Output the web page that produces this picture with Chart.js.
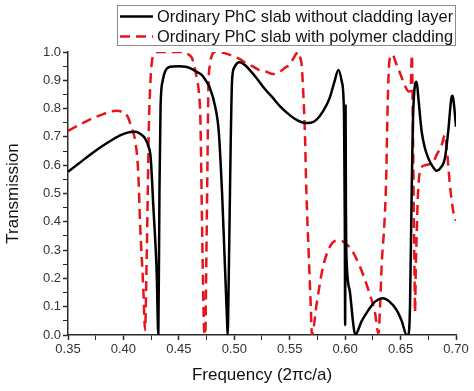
<!DOCTYPE html>
<html>
<head>
<meta charset="utf-8">
<title>PhC slab transmission</title>
<script src="https://cdn.jsdelivr.net/npm/chart.js@4.4.1/dist/chart.umd.min.js"></script>
<style>
  html, body { margin: 0; padding: 0; background: #fff; }
  #chart { display: block; }
</style>
</head>
<body>
<canvas id="chart" width="474" height="391"></canvas>
<script>
const seriesLabels = [
  'Ordinary PhC slab without cladding layer',
  'Ordinary PhC slab with polymer cladding'
];

// without cladding (black, solid)
const bareFreq = [
  0.350, 0.360, 0.370, 0.380, 0.390, 0.398, 0.4045, 0.4105, 0.4155, 0.4195,
  0.4225, 0.4245, 0.427, 0.430, 0.4315, 0.4325, 0.4335, 0.4355, 0.4375, 0.442,
  0.450, 0.456, 0.460, 0.466, 0.4706, 0.475, 0.478, 0.4826, 0.486, 0.489,
  0.491, 0.4935, 0.494, 0.495, 0.4966, 0.498, 0.500, 0.503, 0.505, 0.510,
  0.514, 0.520, 0.527, 0.535, 0.542, 0.550, 0.557, 0.5638, 0.569, 0.574,
  0.580, 0.586, 0.590, 0.594, 0.597, 0.599, 0.5997, 0.600, 0.6004, 0.6007,
  0.601, 0.604, 0.607, 0.609, 0.615, 0.621, 0.627, 0.634, 0.640, 0.6465,
  0.651, 0.6555, 0.657, 0.6585, 0.660, 0.6615, 0.6645, 0.666, 0.669, 0.672,
  0.675, 0.679, 0.6826, 0.686, 0.690, 0.693, 0.696, 0.697, 0.698, 0.700
];
const bareTrans = [
  0.577, 0.607, 0.637, 0.665, 0.690, 0.707, 0.716, 0.718, 0.710, 0.695,
  0.667, 0.630, 0.453, 0.220, 0.000, 0.510, 0.807, 0.900, 0.930, 0.948,
  0.950, 0.948, 0.943, 0.930, 0.919, 0.895, 0.873, 0.810, 0.718, 0.500,
  0.300, 0.050, 0.000, 0.200, 0.636, 0.900, 0.945, 0.962, 0.964, 0.952,
  0.936, 0.908, 0.872, 0.837, 0.805, 0.777, 0.758, 0.749, 0.750, 0.760,
  0.790, 0.837, 0.890, 0.936, 0.895, 0.780, 0.400, 0.035, 0.810, 0.450,
  0.300, 0.160, 0.050, 0.000, 0.050, 0.088, 0.118, 0.130, 0.118, 0.088,
  0.050, 0.000, 0.000, 0.100, 0.500, 0.800, 0.895, 0.840, 0.720, 0.660,
  0.625, 0.595, 0.580, 0.590, 0.625, 0.720, 0.840, 0.845, 0.820, 0.736
];

// with polymer cladding (red, dashed)
const cladFreq = [
  0.350, 0.360, 0.370, 0.380, 0.388, 0.394, 0.398, 0.4015, 0.4044, 0.4075,
  0.4105, 0.4134, 0.415, 0.418, 0.4195, 0.421, 0.422, 0.423, 0.424, 0.4255,
  0.4285, 0.432, 0.445, 0.454, 0.458, 0.4616, 0.464, 0.466, 0.468, 0.4695,
  0.4705, 0.4715, 0.4728, 0.4738, 0.4748, 0.4758, 0.4766, 0.478, 0.480, 0.4826,
  0.487, 0.492, 0.496, 0.505, 0.510, 0.517, 0.523, 0.529, 0.535, 0.541,
  0.546, 0.550, 0.553, 0.5563, 0.558, 0.5595, 0.5608, 0.5623, 0.5638, 0.565,
  0.567, 0.569, 0.570, 0.5744, 0.580, 0.586, 0.592, 0.597, 0.600, 0.606,
  0.6135, 0.621, 0.627, 0.630, 0.6315, 0.633, 0.6355, 0.637, 0.638, 0.639,
  0.640, 0.642, 0.643, 0.645, 0.648, 0.651, 0.654, 0.6575, 0.659, 0.6602,
  0.6612, 0.662, 0.6628, 0.663, 0.6638, 0.6648, 0.6655, 0.6675, 0.672, 0.679,
  0.683, 0.687, 0.690, 0.692, 0.6945, 0.697, 0.699, 0.700
];
const cladTrans = [
  0.721, 0.742, 0.762, 0.778, 0.789, 0.792, 0.790, 0.785, 0.767, 0.730,
  0.689, 0.572, 0.395, 0.159, 0.018, 0.277, 0.510, 0.749, 0.866, 0.960,
  0.996, 1.000, 1.000, 1.000, 0.993, 0.980, 0.950, 0.910, 0.860, 0.750,
  0.500, 0.250, 0.020, 0.000, 0.270, 0.600, 0.866, 0.954, 0.990, 1.000,
  1.000, 0.995, 0.990, 0.975, 0.962, 0.948, 0.935, 0.930, 0.922, 0.930,
  0.945, 0.955, 0.975, 0.996, 1.000, 0.980, 0.954, 0.850, 0.700, 0.510,
  0.300, 0.100, 0.000, 0.113, 0.240, 0.310, 0.333, 0.332, 0.325, 0.300,
  0.240, 0.159, 0.077, 0.005, 0.100, 0.250, 0.400, 0.550, 0.750, 0.900,
  0.970, 0.990, 0.990, 0.970, 0.940, 0.910, 0.880, 0.860, 0.865, 0.990,
  0.700, 0.400, 0.150, 0.080, 0.250, 0.390, 0.480, 0.580, 0.600, 0.610,
  0.640, 0.670, 0.707, 0.645, 0.530, 0.450, 0.410, 0.405
];

const toPoints = (xs, ys) => xs.map((x, i) => ({ x, y: ys[i] }));

const axisColor = '#2b2b2b';
const isMajor = (v, step) => Math.abs(Math.round(v / step) * step - v) < 1e-6;

// boxed legend in the top right, drawn by hand
const boxedLegend = {
  id: 'boxedLegend',
  afterDraw(chart) {
    const ctx = chart.ctx;
    ctx.save();
    ctx.strokeStyle = '#8a8a8a';
    ctx.lineWidth = 1;
    ctx.strokeRect(117.5, 5.5, 338, 40);
    ctx.font = '16.4px Arial, "Liberation Sans", sans-serif';
    ctx.textBaseline = 'middle';
    chart.data.datasets.forEach((ds, i) => {
      const y = 16.5 + i * 20;
      ctx.strokeStyle = ds.borderColor;
      ctx.lineWidth = ds.borderWidth;
      ctx.setLineDash(ds.borderDash || []);
      ctx.beginPath();
      ctx.moveTo(120, y);
      ctx.lineTo(153, y);
      ctx.stroke();
      ctx.setLineDash([]);
      ctx.fillStyle = '#111';
      ctx.fillText(ds.label, 157, y + 1);
    });
    ctx.restore();
  }
};

new Chart(document.getElementById('chart'), {
  type: 'line',
  data: {
    datasets: [
      {
        label: seriesLabels[0],
        data: toPoints(bareFreq, bareTrans),
        borderColor: '#000000',
        borderWidth: 2.5,
        pointRadius: 0,
        cubicInterpolationMode: 'monotone'
      },
      {
        label: seriesLabels[1],
        data: toPoints(cladFreq, cladTrans),
        borderColor: '#e8141c',
        borderWidth: 2.5,
        borderDash: [10, 6],
        pointRadius: 0,
        cubicInterpolationMode: 'monotone'
      }
    ]
  },
  options: {
    responsive: false,
    animation: false,
    layout: { padding: { top: 52, right: 18, left: 0, bottom: 0 } },
    plugins: {
      legend: { display: false },
      tooltip: { enabled: false }
    },
    scales: {
      x: {
        type: 'linear',
        min: 0.35,
        max: 0.70,
        afterFit: (scale) => { scale.height = 56; },
        border: { display: true, color: axisColor, width: 1.5 },
        grid: {
          drawOnChartArea: false,
          drawTicks: true,
          tickLength: 5,
          tickColor: axisColor,
          tickWidth: (c) => (isMajor(c.tick.value, 0.05) ? 1.5 : 1)
        },
        ticks: {
          stepSize: 0.025,
          autoSkip: false,
          maxRotation: 0,
          padding: 2,
          color: '#333',
          font: { family: 'Arial, "Liberation Sans", sans-serif', size: 13 },
          callback: (v) => (isMajor(v, 0.05) ? v.toFixed(2) : '')
        },
        title: {
          display: true,
          text: 'Frequency (2πc/a)',
          color: '#111',
          padding: { top: 0, bottom: 5 },
          font: { family: 'Arial, "Liberation Sans", sans-serif', size: 17 }
        }
      },
      y: {
        min: 0,
        max: 1.0,
        afterFit: (scale) => { scale.width = 68; },
        border: { display: true, color: axisColor, width: 1.5 },
        grid: {
          drawOnChartArea: false,
          drawTicks: true,
          tickLength: 5,
          tickColor: axisColor,
          tickWidth: (c) => (isMajor(c.tick.value, 0.1) ? 1.5 : 1)
        },
        ticks: {
          stepSize: 0.05,
          autoSkip: false,
          padding: 2,
          color: '#333',
          font: { family: 'Arial, "Liberation Sans", sans-serif', size: 13 },
          callback: (v) => (isMajor(v, 0.1) ? v.toFixed(1) : '')
        },
        title: {
          display: true,
          text: 'Transmission',
          color: '#111',
          padding: { top: 3, bottom: 0 },
          font: { family: 'Arial, "Liberation Sans", sans-serif', size: 17 }
        }
      }
    }
  },
  plugins: [boxedLegend]
});
</script>
</body>
</html>
